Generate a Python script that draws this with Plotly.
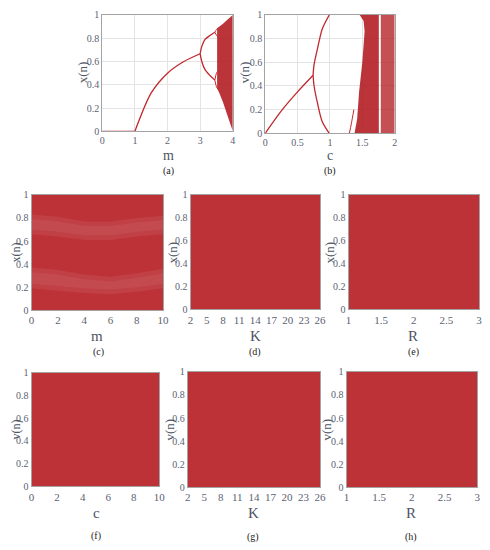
import plotly.graph_objects as go

# ---------------------------------------------------------------------------
# Data
# ---------------------------------------------------------------------------

# (a) bifurcation against m
a_zero_m = [0, 1]
a_zero_x = [0, 0]
a_fix_m = [1, 1.5, 2, 2.5, 3.0]
a_fix_x = [0, 0.33, 0.5, 0.6, 0.667]
a_p2_m = [3.0, 3.05, 3.15, 3.3, 3.45]
a_p2_hi = [0.667, 0.73, 0.79, 0.824, 0.852]
a_p2_lo = [0.667, 0.60, 0.53, 0.48, 0.44]
a_p4_m = [3.45, 3.5, 3.55]
a_p4_hi_a = [0.852, 0.875, 0.886]
a_p4_hi_b = [0.852, 0.827, 0.81]
a_p4_lo_a = [0.44, 0.50, 0.52]
a_p4_lo_b = [0.44, 0.383, 0.36]
a_chaos_m = [3.52, 3.6, 3.7, 3.8, 3.9, 4.0]
a_chaos_hi = [0.885, 0.90, 0.925, 0.95, 0.975, 1.0]
a_chaos_lo = [0.37, 0.32, 0.25, 0.17, 0.09, 0.0]

# (b) bifurcation against c
b_rise_c = [0, 0.25, 0.5, 0.74]
b_rise_v = [0, 0.19, 0.35, 0.49]
b_split_c = [0.74, 0.755, 0.81, 0.88, 0.99]
b_up_v = [0.49, 0.58, 0.72, 0.88, 1.0]
b_dn_v = [0.49, 0.40, 0.25, 0.10, 0.0]
b_thin_c = [1.30, 1.33, 1.37]
b_thin_v = [0, 0.08, 0.2]
b_edge_c = [1.38, 1.42, 1.45, 1.50, 1.535, 1.52, 1.46]
b_edge_v = [0, 0.12, 0.35, 0.6, 0.86, 0.95, 1.0]
b_gap_c = [1.755, 1.785]
b_max_c = 2.0

# (c) lighter bands in the chaotic cloud
c_band_m = [0, 2, 4, 6, 8, 10]
c_up_lo = [0.66, 0.64, 0.61, 0.61, 0.64, 0.66]
c_up_hi = [0.83, 0.81, 0.77, 0.77, 0.80, 0.82]
c_dn_lo = [0.19, 0.17, 0.15, 0.14, 0.16, 0.19]
c_dn_hi = [0.37, 0.35, 0.31, 0.29, 0.32, 0.36]

# parameter ranges of the fully chaotic panels
m_range = [0, 10]
k_range = [2, 26]
r_range = [1, 3]
c_range = [0, 10]
state_range = [0, 1]

m_ticks = [0, 2, 4, 6, 8, 10]
k_ticks = [2, 5, 8, 11, 14, 17, 20, 23, 26]
r_ticks = [1, 1.5, 2, 2.5, 3]

# ---------------------------------------------------------------------------
# Style
# ---------------------------------------------------------------------------

# the page puts the figure 8 px in from the window corner
OFF = 8
W, H = 490 - OFF, 550 - OFF
FONT = "Liberation Serif"
TICK_COL = "#5b6272"
TITLE_COL = "#4d5463"
LINE_RED = "#c1272d"
DENSE_RED = "#bc3237"
CHAOS_RED = "rgba(178,24,30,0.88)"


def px_x(px):
    return (px - OFF) / W


def px_y(py):
    return 1 - (py - OFF) / H


# axis boxes in window pixels: (left, right, top, bottom)
BOXES = {
    "a": (101, 234, 9, 128),
    "b": (267, 399, 9, 130),
    "c": (29, 163, 193, 311),
    "d": (191, 323, 193, 310),
    "e": (352, 485, 193, 310),
    "f": (29, 159, 375, 491),
    "g": (188, 323, 374, 492),
    "h": (350, 483, 374, 492),
}
PANELS = list(BOXES)

fig = go.Figure()


def ax(panel):
    i = PANELS.index(panel) + 1
    return ("x" if i == 1 else f"x{i}"), ("y" if i == 1 else f"y{i}")


def line(panel, xs, ys, width=1.3):
    xa, ya = ax(panel)
    fig.add_trace(go.Scatter(
        x=xs, y=ys, mode="lines", xaxis=xa, yaxis=ya,
        line=dict(color=LINE_RED, width=width, shape="spline", smoothing=0.8),
        showlegend=False, hoverinfo="skip",
    ))


def poly(panel, xs, ys, color):
    xa, ya = ax(panel)
    fig.add_trace(go.Scatter(
        x=xs, y=ys, mode="lines", fill="toself", fillcolor=color,
        line=dict(width=0, color=color), xaxis=xa, yaxis=ya,
        showlegend=False, hoverinfo="skip",
    ))


def band(panel, xs, lo, hi, color):
    poly(panel, xs + xs[::-1], hi + lo[::-1], color)


def block(panel, xr):
    lo = [state_range[0]] * 2
    hi = [state_range[1]] * 2
    band(panel, [xr[0], xr[1]], lo, hi, DENSE_RED)


# (a)
band("a", a_chaos_m, a_chaos_lo, a_chaos_hi, CHAOS_RED)
line("a", a_zero_m, a_zero_x)
line("a", a_fix_m, a_fix_x)
line("a", a_p2_m, a_p2_hi)
line("a", a_p2_m, a_p2_lo)
for branch in (a_p4_hi_a, a_p4_hi_b, a_p4_lo_a, a_p4_lo_b):
    line("a", a_p4_m, branch, width=1.0)

# (b)
line("b", b_rise_c, b_rise_v)
line("b", b_split_c, b_up_v)
line("b", b_split_c, b_dn_v)
line("b", b_thin_c, b_thin_v, width=1.0)
poly("b", b_edge_c + [b_gap_c[0], b_gap_c[0]],
     b_edge_v + [state_range[1], state_range[0]], CHAOS_RED)
band("b", [b_gap_c[1], b_max_c], [state_range[0]] * 2, [state_range[1]] * 2,
     "rgba(180,30,36,0.78)")

# (c) with its lighter bands, then the other fully chaotic panels
block("c", m_range)
band("c", c_band_m, c_up_lo, c_up_hi, "rgba(255,255,255,0.07)")
band("c", c_band_m, c_dn_lo, c_dn_hi, "rgba(255,255,255,0.07)")
band("c", c_band_m, [v + 0.04 for v in c_up_lo], [v - 0.04 for v in c_up_hi],
     "rgba(255,255,255,0.06)")
band("c", c_band_m, [v + 0.04 for v in c_dn_lo], [v - 0.04 for v in c_dn_hi],
     "rgba(255,255,255,0.06)")
block("d", k_range)
block("e", r_range)
block("f", c_range)
block("g", k_range)
block("h", r_range)

# ---------------------------------------------------------------------------
# Axes
# ---------------------------------------------------------------------------

x_setup = {
    "a": dict(range=[0, 4], dtick=1),
    "b": dict(range=[0, 2], dtick=0.5),
    "c": dict(range=m_range, tickvals=m_ticks),
    "d": dict(range=k_range, tickvals=k_ticks),
    "e": dict(range=r_range, tickvals=r_ticks),
    "f": dict(range=c_range, tickvals=m_ticks),
    "g": dict(range=k_range, tickvals=k_ticks),
    "h": dict(range=r_range, tickvals=r_ticks),
}

layout = {}
for p, (l, r, t, b) in BOXES.items():
    xa, ya = ax(p)
    xk = "xaxis" if xa == "x" else "xaxis" + xa[1:]
    yk = "yaxis" if ya == "y" else "yaxis" + ya[1:]
    top = p in ("a", "b")
    common = dict(
        showline=True, linecolor="#a3a3a3", linewidth=1, mirror=True,
        showgrid=top, gridcolor="#e4e4e4", gridwidth=1, zeroline=False,
        ticks="", fixedrange=True,
    )
    x_font = dict(family=FONT, size=10 if top else 11, color=TICK_COL)
    y_font = dict(family=FONT, size=10, color=TICK_COL)
    layout[xk] = dict(domain=[px_x(l), px_x(r)], anchor=ya, tickfont=x_font,
                      **x_setup[p], **common)
    layout[yk] = dict(domain=[px_y(b), px_y(t)], anchor=xa, tickfont=y_font,
                      range=state_range, dtick=0.2, **common)

fig.update_layout(
    width=W, height=H,
    margin=dict(l=0, r=0, t=0, b=0),
    paper_bgcolor="white", plot_bgcolor="white",
    font=dict(family=FONT, color=TICK_COL),
    **layout,
)

# axis titles and panel letters, centred on window pixels
x_titles = [
    ("m", 168, 153, 14), ("c", 333, 153, 14),
    ("m", 96, 337, 15), ("K", 257, 337, 15), ("R", 418, 337, 15),
    ("c", 95, 518, 15), ("K", 255, 518, 15), ("R", 416, 518, 15),
]
y_titles = [
    ("x(n)", 81, 68, 13), ("v(n)", 246, 68, 13),
    ("x(n)", 13, 252, 12), ("x(n)", 173, 252, 13), ("x(n)", 333, 252, 13),
    ("v(n)", 13, 433, 12), ("v(n)", 170, 433, 13), ("v(n)", 330, 433, 13),
]
letters = [
    ("(a)", 168, 169), ("(b)", 333, 169),
    ("(c)", 97, 354), ("(d)", 257, 354), ("(e)", 418, 354),
    ("(f)", 95, 542), ("(g)", 255, 543), ("(h)", 416, 543),
]

CENTRED = dict(xref="paper", yref="paper", xanchor="center", yanchor="middle",
               showarrow=False)

for text, px, py, size in x_titles:
    fig.add_annotation(text=text, x=px_x(px), y=px_y(py), **CENTRED,
                       font=dict(family=FONT, size=size, color=TITLE_COL))
for text, px, py, size in y_titles:
    fig.add_annotation(text=text, x=px_x(px), y=px_y(py), **CENTRED, textangle=-90,
                       font=dict(family=FONT, size=size, color=TITLE_COL))
for text, px, py in letters:
    fig.add_annotation(text=text, x=px_x(px), y=px_y(py), **CENTRED,
                       font=dict(family=FONT, size=10, color="#222222"))

fig.write_html("out.html")
